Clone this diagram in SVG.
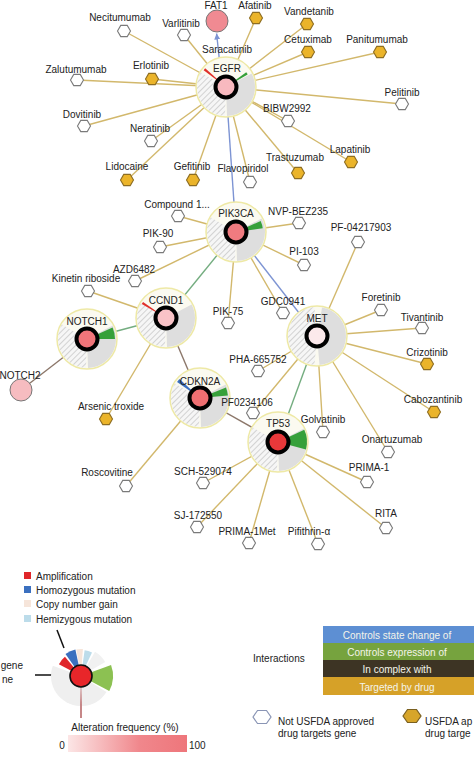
<svg xmlns="http://www.w3.org/2000/svg" width="474" height="758" viewBox="0 0 474 758">
<style>
text{font-family:"Liberation Sans",Arial,sans-serif;font-size:10px;fill:#222}
.lbl{text-anchor:middle}
.drug{stroke:#d2b86c;stroke-width:1.4;fill:none}
.ctrl{stroke:#7d94d3;stroke-width:1.4;fill:none}
.expr{stroke:#74ad80;stroke-width:1.4;fill:none}
.cplx{stroke:#8c776a;stroke-width:1.4;fill:none}
.na{fill:#fff;stroke:#7a7a7a;stroke-width:1.1}
.ap{fill:#ebb42a;stroke:#8d6d22;stroke-width:1.1}
.core{stroke:#000;stroke-width:4}
.grn{fill:#36a03a}
.amp{fill:#e0302a}
.hom{fill:#3a6fc0}
.simple{stroke:#777;stroke-width:1}
.bar text{fill:#f4f4ea;text-anchor:middle}
</style>
<defs>
<pattern id="hatch" width="4" height="4" patternUnits="userSpaceOnUse" patternTransform="rotate(45)">
<rect width="4" height="4" fill="#f6f6f6"/>
<line x1="0" y1="0" x2="0" y2="4" stroke="#c6c6c6" stroke-width="1.5"/>
</pattern>
<linearGradient id="freq" x1="0" x2="1" y1="0" y2="0">
<stop offset="0" stop-color="#fce6e6"/>
<stop offset="0.4" stop-color="#f4a7aa"/>
<stop offset="0.6" stop-color="#f0878c"/>
<stop offset="1" stop-color="#ee767b"/>
</linearGradient>
<marker id="arr" viewBox="0 0 10 10" refX="10" refY="5" markerWidth="6" markerHeight="6" orient="auto" markerUnits="userSpaceOnUse">
<path d="M0,0L10,5L0,10Z" fill="#7d94d3"/>
</marker>
<polygon id="hx" points="-6.5,0 -3.25,-5.6 3.25,-5.6 6.5,0 3.25,5.6 -3.25,5.6"/>
<g id="pie">
<circle r="30" fill="#fbfaf0" stroke="#eee9a6" stroke-width="1.5"/>
<path d="M0,0L-25.11,-14.5A29,29 0 0 0 -1.01,28.98Z" fill="url(#hatch)"/>
<path d="M0,0L1.01,28.98A29,29 0 0 0 25.61,-13.61Z" fill="#dedede"/>
</g>
<g id="pieMet">
<circle r="30" fill="#fbfaf0" stroke="#eee9a6" stroke-width="1.5"/>
<path d="M0,0L-2.53,-28.89A29,29 0 0 0 -2.53,28.89Z" fill="url(#hatch)"/>
<path d="M0,0L2.53,28.89A29,29 0 0 0 5.04,-28.56Z" fill="#dedede"/>
</g>
</defs>
<rect width="474" height="758" fill="#fff"/>

<g id="connectors">
<line class="drug" x1="226" y1="87" x2="124" y2="31"/>
<line class="drug" x1="226" y1="87" x2="184" y2="35"/>
<line class="drug" x1="226" y1="87" x2="77" y2="80"/>
<line class="drug" x1="226" y1="87" x2="152" y2="79"/>
<line class="drug" x1="226" y1="87" x2="84" y2="126"/>
<line class="drug" x1="226" y1="87" x2="151" y2="141"/>
<line class="drug" x1="226" y1="87" x2="127" y2="180"/>
<line class="drug" x1="226" y1="87" x2="193" y2="180"/>
<line class="drug" x1="226" y1="87" x2="250" y2="182"/>
<line class="drug" x1="226" y1="87" x2="256" y2="18"/>
<line class="drug" x1="226" y1="87" x2="307" y2="24"/>
<line class="drug" x1="226" y1="87" x2="308" y2="52"/>
<line class="drug" x1="226" y1="87" x2="380" y2="52"/>
<line class="drug" x1="226" y1="87" x2="402" y2="104"/>
<line class="drug" x1="226" y1="87" x2="288" y2="121"/>
<line class="drug" x1="226" y1="87" x2="351" y2="162"/>
<line class="drug" x1="226" y1="87" x2="298" y2="173"/>
<line class="drug" x1="236" y1="232" x2="178" y2="216"/>
<line class="drug" x1="236" y1="232" x2="299" y2="223"/>
<line class="drug" x1="236" y1="232" x2="160" y2="247"/>
<line class="drug" x1="236" y1="232" x2="304" y2="265"/>
<line class="drug" x1="236" y1="232" x2="135" y2="281"/>
<line class="drug" x1="236" y1="232" x2="283" y2="313"/>
<line class="drug" x1="236" y1="232" x2="228" y2="323"/>
<line class="drug" x1="166" y1="318" x2="88" y2="291"/>
<line class="drug" x1="166" y1="318" x2="106" y2="419"/>
<line class="drug" x1="317" y1="336" x2="358" y2="242"/>
<line class="drug" x1="317" y1="336" x2="381" y2="310"/>
<line class="drug" x1="317" y1="336" x2="422" y2="328"/>
<line class="drug" x1="317" y1="336" x2="427" y2="364"/>
<line class="drug" x1="317" y1="336" x2="434" y2="412"/>
<line class="drug" x1="317" y1="336" x2="258" y2="371"/>
<line class="drug" x1="317" y1="336" x2="253" y2="413"/>
<line class="drug" x1="317" y1="336" x2="323" y2="432"/>
<line class="drug" x1="317" y1="336" x2="388" y2="452"/>
<line class="drug" x1="200" y1="398" x2="126" y2="486"/>
<line class="drug" x1="278" y1="442" x2="203" y2="483"/>
<line class="drug" x1="278" y1="442" x2="367" y2="482"/>
<line class="drug" x1="278" y1="442" x2="197" y2="527"/>
<line class="drug" x1="278" y1="442" x2="249" y2="543"/>
<line class="drug" x1="278" y1="442" x2="318" y2="544"/>
<line class="drug" x1="278" y1="442" x2="386" y2="528"/>
<line class="ctrl" x1="221" y1="75" x2="216.6" y2="33.5" marker-end="url(#arr)"/>
<line class="ctrl" x1="226" y1="87" x2="236" y2="232"/>
<line class="ctrl" x1="317" y1="336" x2="246.5" y2="245.4" marker-end="url(#arr)"/>
<line class="expr" x1="236" y1="232" x2="166" y2="318"/>
<line class="expr" x1="166" y1="318" x2="87" y2="339"/>
<line class="expr" x1="317" y1="336" x2="278" y2="442"/>
<line class="cplx" x1="166" y1="318" x2="200" y2="398"/>
<line class="cplx" x1="200" y1="398" x2="278" y2="442"/>
<line class="cplx" x1="87" y1="339" x2="21" y2="390"/>
</g>

<g id="gene-FAT1"><circle class="simple" cx="217" cy="21" r="11" fill="#f08a92"/><text class="lbl" x="216" y="9">FAT1</text></g>
<g id="gene-NOTCH2"><circle class="simple" cx="21" cy="390" r="11" fill="#f6bcc0"/><text class="lbl" x="20" y="378.5">NOTCH2</text></g>

<g id="gene-EGFR">
<use href="#pie" x="226" y="87"/>
<path class="amp" transform="translate(226 87)" d="M0,0L-20.81,-18.74A28,28 0 0 0 -22.36,-16.85Z"/>
<path class="grn" transform="translate(226 87)" d="M0,0L21.65,-12.5A25,25 0 0 0 20.23,-14.69Z"/>
<circle class="core" cx="226" cy="87" r="10.5" fill="#f8b9bf"/>
<text class="lbl" x="227" y="71.5">EGFR</text>
</g>
<g id="gene-PIK3CA">
<use href="#pie" x="236" y="232"/>
<path class="grn" transform="translate(236 232)" d="M0,0L26.74,-3.76A27,27 0 0 0 24.67,-10.98Z"/>
<circle class="core" cx="236" cy="232" r="10.5" fill="#f07b80"/>
<text class="lbl" x="236" y="216.5">PIK3CA</text>
</g>
<g id="gene-CCND1">
<use href="#pie" x="166" y="318"/>
<path class="amp" transform="translate(166 318)" d="M0,0L-22.94,-16.06A28,28 0 0 0 -24.25,-14Z"/>
<circle class="core" cx="166" cy="318" r="10.5" fill="#f9c3c7"/>
<text class="lbl" x="166" y="303.5">CCND1</text>
</g>
<g id="gene-NOTCH1">
<use href="#pie" x="87" y="339"/>
<path class="grn" transform="translate(87 339)" d="M0,0L28,0A28,28 0 0 0 25.58,-11.39Z"/>
<circle class="core" cx="87" cy="339" r="10.5" fill="#f0757a"/>
<text class="lbl" x="87" y="324.5">NOTCH1</text>
</g>
<g id="gene-MET">
<use href="#pieMet" x="317" y="336"/>
<circle class="core" cx="317" cy="336" r="10.5" fill="#fce9eb"/>
<text class="lbl" x="317" y="321.5">MET</text>
</g>
<g id="gene-CDKN2A">
<use href="#pie" x="200" y="398"/>
<path class="grn" transform="translate(200 398)" d="M0,0L27.89,-2.44A28,28 0 0 0 25.96,-10.49Z"/>
<path class="hom" transform="translate(200 398)" d="M0,0L-20.48,-19.1A28,28 0 0 0 -22.94,-16.06Z"/>
<circle class="core" cx="200" cy="398" r="10.5" fill="#ef6f72"/>
<text class="lbl" x="200" y="384.5">CDKN2A</text>
</g>
<g id="gene-TP53">
<use href="#pie" x="278" y="442"/>
<path class="grn" transform="translate(278 442)" d="M0,0L28.01,7.51A29,29 0 0 0 26.28,-12.26Z"/>
<circle class="core" cx="278" cy="442" r="10.5" fill="#e8383a"/>
<text class="lbl" x="278" y="426.5">TP53</text>
</g>

<g id="d-necitumumab"><use href="#hx" class="na" x="124" y="31"/><text class="lbl" x="120" y="20.5">Necitumumab</text></g>
<g id="d-varlitinib"><use href="#hx" class="na" x="184" y="35"/><text class="lbl" x="181" y="26.5">Varlitinib</text></g>
<g id="d-zalutumumab"><use href="#hx" class="na" x="77" y="80"/><text class="lbl" x="76" y="72.5">Zalutumumab</text></g>
<g id="d-erlotinib"><use href="#hx" class="ap" x="152" y="79"/><text class="lbl" x="151" y="68.5">Erlotinib</text></g>
<g id="d-dovitinib"><use href="#hx" class="na" x="84" y="126"/><text class="lbl" x="82" y="117.5">Dovitinib</text></g>
<g id="d-neratinib"><use href="#hx" class="na" x="151" y="141"/><text class="lbl" x="150" y="131.5">Neratinib</text></g>
<g id="d-lidocaine"><use href="#hx" class="ap" x="127" y="180"/><text class="lbl" x="127" y="169.5">Lidocaine</text></g>
<g id="d-gefitinib"><use href="#hx" class="ap" x="193" y="180"/><text class="lbl" x="192" y="169.5">Gefitinib</text></g>
<g id="d-flavopiridol"><use href="#hx" class="na" x="250" y="182"/><text class="lbl" x="243" y="172">Flavopiridol</text></g>
<g id="d-saracatinib"><text class="lbl" x="227" y="52.5">Saracatinib</text></g>
<g id="d-afatinib"><use href="#hx" class="ap" x="256" y="18"/><text class="lbl" x="255" y="8.5">Afatinib</text></g>
<g id="d-vandetanib"><use href="#hx" class="ap" x="307" y="24"/><text class="lbl" x="309" y="14.5">Vandetanib</text></g>
<g id="d-cetuximab"><use href="#hx" class="ap" x="308" y="52"/><text class="lbl" x="308" y="42.5">Cetuximab</text></g>
<g id="d-panitumumab"><use href="#hx" class="ap" x="380" y="52"/><text class="lbl" x="377" y="42.5">Panitumumab</text></g>
<g id="d-pelitinib"><use href="#hx" class="na" x="402" y="104"/><text class="lbl" x="402" y="95.5">Pelitinib</text></g>
<g id="d-bibw2992"><use href="#hx" class="na" x="288" y="121"/><text class="lbl" x="287" y="111.5">BIBW2992</text></g>
<g id="d-lapatinib"><use href="#hx" class="ap" x="351" y="162"/><text class="lbl" x="350" y="152.5">Lapatinib</text></g>
<g id="d-trastuzumab"><use href="#hx" class="ap" x="298" y="173"/><text class="lbl" x="295" y="160.5">Trastuzumab</text></g>
<g id="d-compound1"><use href="#hx" class="na" x="178" y="216"/><text class="lbl" x="177" y="207.5">Compound 1...</text></g>
<g id="d-nvpbez235"><use href="#hx" class="na" x="299" y="223"/><text class="lbl" x="298" y="214.5">NVP-BEZ235</text></g>
<g id="d-pik90"><use href="#hx" class="na" x="160" y="247"/><text class="lbl" x="158" y="236.5">PIK-90</text></g>
<g id="d-pi103"><use href="#hx" class="na" x="304" y="265"/><text class="lbl" x="304" y="254.5">PI-103</text></g>
<g id="d-azd6482"><use href="#hx" class="na" x="135" y="281"/><text class="lbl" x="134" y="272.5">AZD6482</text></g>
<g id="d-gdc0941"><use href="#hx" class="na" x="283" y="313"/><text class="lbl" x="283" y="304.5">GDC0941</text></g>
<g id="d-pik75"><use href="#hx" class="na" x="228" y="323"/><text class="lbl" x="228" y="314.5">PIK-75</text></g>
<g id="d-kinetin"><use href="#hx" class="na" x="88" y="291"/><text class="lbl" x="86" y="281.5">Kinetin riboside</text></g>
<g id="d-arsenic"><use href="#hx" class="ap" x="106" y="419"/><text class="lbl" x="111" y="409.5">Arsenic troxide</text></g>
<g id="d-pf04217903"><use href="#hx" class="na" x="358" y="242"/><text class="lbl" x="361" y="230.5">PF-04217903</text></g>
<g id="d-foretinib"><use href="#hx" class="na" x="381" y="310"/><text class="lbl" x="381" y="300.5">Foretinib</text></g>
<g id="d-tivantinib"><use href="#hx" class="na" x="422" y="328"/><text class="lbl" x="422" y="320.5">Tivantinib</text></g>
<g id="d-crizotinib"><use href="#hx" class="ap" x="427" y="364"/><text class="lbl" x="427" y="355.5">Crizotinib</text></g>
<g id="d-cabozantinib"><use href="#hx" class="ap" x="434" y="412"/><text class="lbl" x="433" y="402.5">Cabozantinib</text></g>
<g id="d-pha665752"><use href="#hx" class="na" x="258" y="371"/><text class="lbl" x="258" y="362.5">PHA-665752</text></g>
<g id="d-pf0234106"><use href="#hx" class="na" x="253" y="413"/><text class="lbl" x="247" y="405.5">PF0234106</text></g>
<g id="d-golvatinib"><use href="#hx" class="na" x="323" y="432"/><text class="lbl" x="323" y="422.5">Golvatinib</text></g>
<g id="d-onartuzumab"><use href="#hx" class="na" x="388" y="452"/><text class="lbl" x="392" y="442.5">Onartuzumab</text></g>
<g id="d-roscovitine"><use href="#hx" class="na" x="126" y="486"/><text class="lbl" x="107" y="475.5">Roscovitine</text></g>
<g id="d-sch529074"><use href="#hx" class="na" x="203" y="483"/><text class="lbl" x="203" y="474.5">SCH-529074</text></g>
<g id="d-prima1"><use href="#hx" class="na" x="367" y="482"/><text class="lbl" x="369" y="470.5">PRIMA-1</text></g>
<g id="d-sj172550"><use href="#hx" class="na" x="197" y="527"/><text class="lbl" x="198" y="518.5">SJ-172550</text></g>
<g id="d-prima1met"><use href="#hx" class="na" x="249" y="543"/><text class="lbl" x="247" y="534.5">PRIMA-1Met</text></g>
<g id="d-pifithrin"><use href="#hx" class="na" x="318" y="544"/><text class="lbl" x="309" y="534.5">Pifithrin-α</text></g>
<g id="d-rita"><use href="#hx" class="na" x="386" y="528"/><text class="lbl" x="386" y="516.5">RITA</text></g>

<g id="legend-alterations">
<rect x="24" y="572" width="7" height="7" fill="#e0262a"/><text x="36" y="579.5">Amplification</text>
<rect x="24" y="586" width="7" height="7" fill="#3b70bf"/><text x="36" y="593.5">Homozygous mutation</text>
<rect x="24" y="600" width="7" height="7" fill="#f6e5da"/><text x="36" y="607.5">Copy number gain</text>
<rect x="24" y="615" width="7" height="7" fill="#bcdcea"/><text x="36" y="622.5">Hemizygous mutation</text>
</g>
<g id="legend-glyph">
<line x1="57" y1="630" x2="64" y2="648" stroke="#111" stroke-width="1.5"/>
<line x1="35" y1="675" x2="72" y2="675" stroke="#111" stroke-width="1.5"/>
<line x1="81" y1="686" x2="81" y2="718" stroke="#b35f60" stroke-width="1.5"/>
<g transform="translate(81 676)">
<path d="M0,0L-28.19,-10.26A30,30 0 0 0 -1.05,29.98Z" fill="#efefef"/>
<path d="M0,0L1.05,29.98A30,30 0 0 0 25.44,15.9Z" fill="#efefef"/>
<path d="M0,0L28.25,15.02A32,32 0 0 0 30.07,-10.94Z" fill="#8cc152"/>
<path d="M0,0L24.25,-14A28,28 0 0 0 14,-24.25Z" fill="#f1f1f1"/>
<path d="M0,0L10.99,-23.56A26,26 0 0 0 3.62,-25.75Z" fill="#bcdcea"/>
<path d="M0,0L1.88,-26.93A27,27 0 0 0 -4.69,-26.59Z" fill="#f6e5da"/>
<path d="M0,0L-5.61,-26.41A27,27 0 0 0 -15.49,-22.12Z" fill="#3b70bf"/>
<path d="M0,0L-16.07,-19.15A25,25 0 0 0 -22.07,-11.74Z" fill="#e0262a"/>
<circle r="11" fill="#e8262a" stroke="#111" stroke-width="1.6"/>
</g>
<text x="23" y="668.5" text-anchor="end">gene</text>
<text x="13" y="682.5" text-anchor="end">ne</text>
<text class="lbl" x="125" y="730.5">Alteration frequency (%)</text>
<rect x="68" y="735" width="119" height="17" fill="url(#freq)"/>
<text class="lbl" x="62" y="748.5">0</text>
<text x="189" y="748.5">100</text>
</g>
<g id="legend-interactions">
<text x="253" y="662">Interactions</text>
<g class="bar">
<rect x="323" y="626" width="151" height="17" fill="#5d8fd3"/><text x="397" y="639">Controls state change of</text>
<rect x="323" y="643" width="151" height="17" fill="#76a33e"/><text x="397" y="656">Controls expression of</text>
<rect x="323" y="660" width="151" height="17" fill="#3d3424"/><text x="397" y="673">In complex with</text>
<rect x="323" y="677" width="151" height="18" fill="#d6a128"/><text x="397" y="690.5">Targeted by drug</text>
</g>
</g>
<g id="legend-drugs">
<polygon points="253,717 257.5,710.5 266.5,710.5 271,717 266.5,723.5 257.5,723.5" fill="#fff" stroke="#8a95b5" stroke-width="1.2"/>
<text x="278" y="725">Not USFDA approved</text>
<text x="278" y="737">drug targets gene</text>
<polygon points="403,716 407.5,709.5 416.5,709.5 421,716 416.5,722.5 407.5,722.5" fill="#d7a52a" stroke="#7a6020" stroke-width="1.2"/>
<text x="425" y="725">USFDA ap</text>
<text x="425" y="737">drug targe</text>
</g>
</svg>
